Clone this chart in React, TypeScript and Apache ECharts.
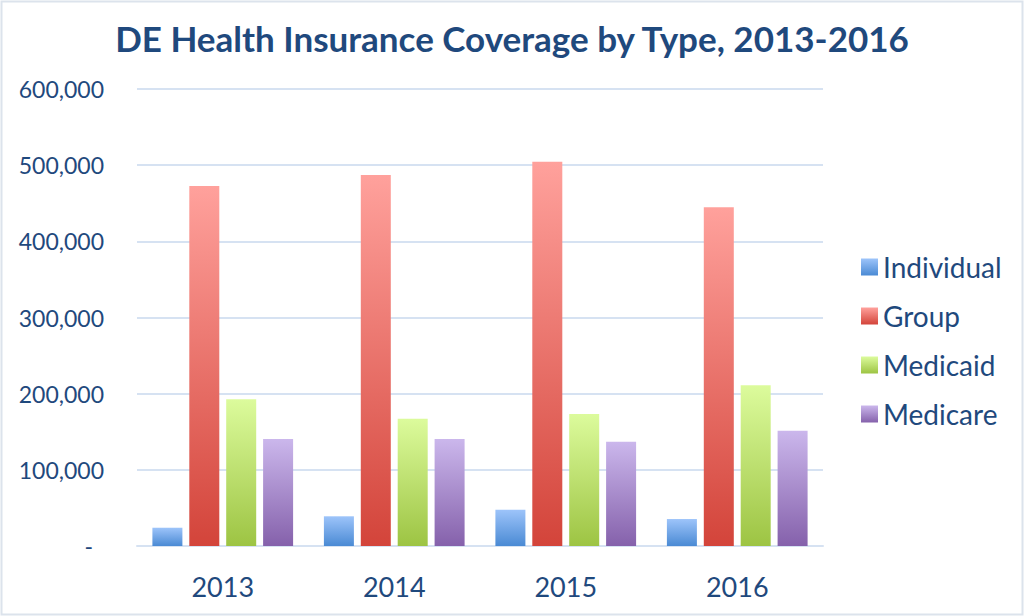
import { useEffect, useRef } from 'react';
import * as echarts from 'echarts';

const years = ['2013', '2014', '2015', '2016'];
const individual = [24000, 39000, 47700, 35400];
const group = [472600, 487100, 504600, 444700];
const medicaid = [192600, 167100, 173300, 211000];
const medicare = [140500, 140500, 137000, 151400];

const navy = '#1F497D';
const font = 'Lato';

const grad = (top: string, bottom: string) =>
    new echarts.graphic.LinearGradient(0, 0, 0, 1, [
        { offset: 0, color: top },
        { offset: 1, color: bottom },
    ]);

const App = () => {
    const chartRef = useRef(null);

    useEffect(() => {
        const myChart = echarts.init(chartRef.current, null, { renderer: 'svg' });

        const bar = (name: string, data: number[], top: string, bottom: string) => ({
            name,
            type: 'bar',
            data,
            barWidth: 30,
            barGap: '23%',
            itemStyle: { color: grad(top, bottom) },
        });

        myChart.setOption({
            animation: false,
            backgroundColor: '#fff',
            textStyle: { fontFamily: font },
            title: {
                left: 'center',
                top: 15,
                text: 'DE Health Insurance Coverage by Type, 2013-2016',
                textStyle: { fontFamily: font, fontSize: 35, fontWeight: 'bold', color: navy },
            },
            legend: {
                orient: 'vertical',
                left: 856,
                top: 248,
                itemWidth: 17,
                itemHeight: 17,
                itemGap: 21,
                icon: 'rect',
                textStyle: { fontFamily: font, fontSize: 28, lineHeight: 28, color: navy, padding: [0, 0, 0, 0] },
            },
            grid: { left: 137, right: 201, top: 89, bottom: 70 },
            xAxis: {
                type: 'category',
                data: years,
                axisLine: { lineStyle: { color: '#D6E2F2', width: 2 } },
                axisTick: { show: false },
                axisLabel: { fontFamily: font, fontSize: 27, color: navy, margin: 27 },
            },
            yAxis: {
                type: 'value',
                min: 0,
                max: 600000,
                interval: 100000,
                axisLine: { show: false },
                axisTick: { show: false },
                splitLine: { lineStyle: { color: '#D6E2F2', width: 2 } },
                axisLabel: {
                    fontFamily: font,
                    fontSize: 23,
                    color: navy,
                    margin: 33,
                    formatter: (v: number) =>
                        v === 0 ? '{z|-}' : v.toLocaleString('en-US'),
                    rich: {
                        z: { fontFamily: font, fontSize: 23, color: navy, padding: [0, 11, 0, 0] },
                    },
                },
            },
            graphic: [
                {
                    type: 'rect',
                    shape: { x: 1.5, y: 1.5, width: 1021, height: 613 },
                    style: { fill: 'none', stroke: '#DCE3EC', lineWidth: 2 },
                    silent: true,
                },
            ],
            series: [
                bar('Individual', individual, '#9DC4FA', '#4A8AD4'),
                bar('Group', group, '#FFA19C', '#D3443A'),
                bar('Medicaid', medicaid, '#DCFB9C', '#9DC443'),
                bar('Medicare', medicare, '#CBB7EC', '#8561AB'),
            ],
        });

        return () => {
            myChart.dispose();
        };
    }, []);

    return (
        <div
            ref={chartRef}
            style={{ position: 'fixed', left: 0, top: 0, width: '1024px', height: '616px' }}
        />
    );
};

export default App;
